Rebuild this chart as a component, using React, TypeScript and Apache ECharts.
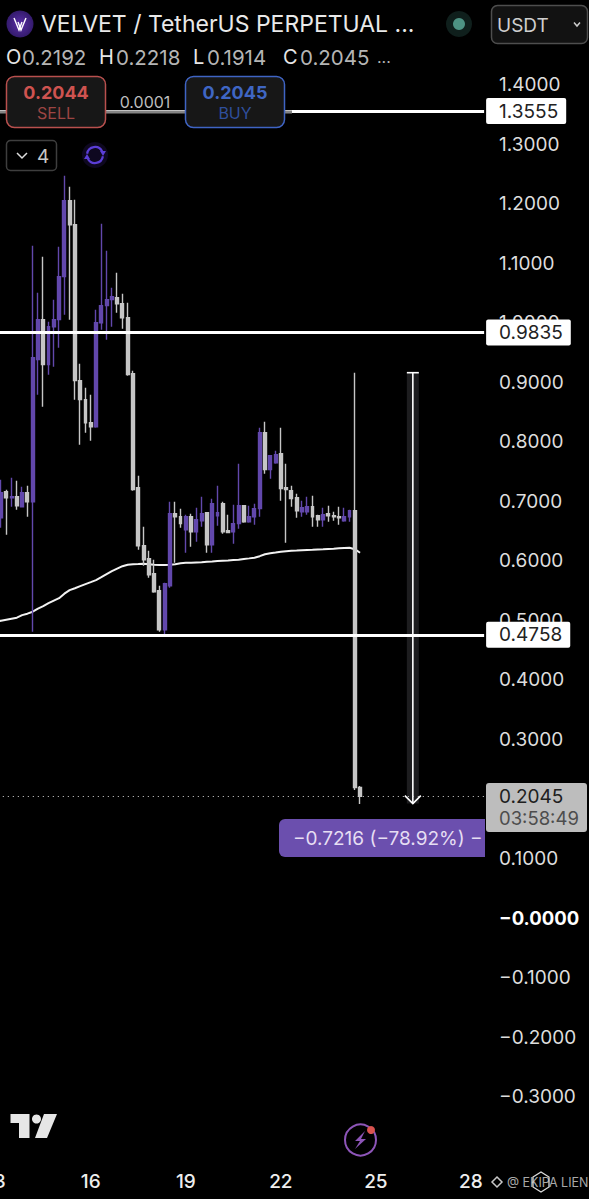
import React, { useEffect, useRef } from "react";
import * as echarts from "echarts";

const FONT = "Inter, 'Noto Sans', sans-serif";
const tickDays = ["13", "16", "19", "22", "25", "28"];
const leadBars = 2;
const barsTotal = 94;
const opens = [
  0.6725, 0.7162, 0.7061, 0.7078, 0.691, 0.7145, 0.6994, 0.938, 1.0052, 0.9296,
  0.9934, 1.0052, 1.0774, 1.2051, 1.1647, 0.9027, 0.8708, 0.8321, 0.8254, 1.0001,
  1.0287, 1.0388, 1.0421, 1.032, 1.0085, 0.9144, 0.7229, 0.6255, 0.6037, 0.5785,
  0.5499, 0.4844, 0.5583, 0.6793, 0.6742, 0.6524, 0.6742, 0.649, 0.6675, 0.6809,
  0.6272, 0.6759, 0.696, 0.6507, 0.649, 0.6625, 0.6927, 0.6658, 0.6742, 0.6877,
  0.8153, 0.7532, 0.7649, 0.7801, 0.7229, 0.7179, 0.7061, 0.6826, 0.6826, 0.691,
  0.6759, 0.6692, 0.6793, 0.6759, 0.6742, 0.6675, 0.6742, 0.6843, 0.2192,
];
const closes = [
  0.7145, 0.7061, 0.7078, 0.6927, 0.7145, 0.6994, 0.9413, 1.0052, 0.9296, 0.9934,
  1.0052, 1.0774, 1.2051, 1.1647, 0.9027, 0.8708, 0.8321, 0.8254, 1.0001, 1.0287,
  1.0388, 1.0438, 1.032, 1.0085, 0.9128, 0.7196, 0.6255, 0.602, 0.5768, 0.5482,
  0.4844, 0.5617, 0.6793, 0.6742, 0.6625, 0.6742, 0.649, 0.6692, 0.6793, 0.6272,
  0.696, 0.6809, 0.649, 0.6474, 0.6625, 0.6927, 0.6658, 0.6742, 0.6877, 0.8153,
  0.7532, 0.7767, 0.7784, 0.7213, 0.7196, 0.7045, 0.6843, 0.6893, 0.691, 0.6742,
  0.6692, 0.6776, 0.6759, 0.6742, 0.6725, 0.6742, 0.6843, 0.2192, 0.2045,
];
const lows = [
  0.6557, 0.644, 0.691, 0.686, 0.69, 0.6742, 0.481, 0.8792, 0.859, 0.9128,
  0.9262, 0.9581, 1.0136, 1.0052, 0.8708, 0.7952, 0.8153, 0.8019, 0.8237, 0.9883,
  0.9715, 0.9934, 1.0169, 0.99, 0.9111, 0.7179, 0.6188, 0.5919, 0.5718, 0.5466,
  0.481, 0.476, 0.555, 0.597, 0.6557, 0.6137, 0.6238, 0.6322, 0.6574, 0.6137,
  0.6137, 0.6591, 0.6457, 0.647, 0.6289, 0.654, 0.6641, 0.664, 0.6608, 0.6742,
  0.7465, 0.7381, 0.7633, 0.7011, 0.6305, 0.691, 0.6725, 0.6742, 0.6776, 0.6574,
  0.6574, 0.6574, 0.6658, 0.6675, 0.6608, 0.6658, 0.6658, 0.215, 0.1914,
];
const highs = [
  0.7364, 0.7196, 0.7397, 0.7347, 0.7246, 0.7263, 1.1295, 1.0505, 1.111, 1.0018,
  1.0388, 1.1278, 1.247, 1.2286, 1.2067, 0.9313, 0.8909, 0.8792, 1.022, 1.1664,
  1.1211, 1.0589, 1.0841, 1.0488, 1.0337, 0.9195, 0.7431, 0.6574, 0.6171, 0.602,
  0.5583, 0.5634, 0.6994, 0.6994, 0.6877, 0.6776, 0.6793, 0.6893, 0.7078, 0.6809,
  0.7045, 0.7263, 0.6994, 0.6776, 0.6944, 0.7633, 0.694, 0.6927, 0.696, 0.8237,
  0.8338, 0.778, 0.7851, 0.8237, 0.7633, 0.7263, 0.7129, 0.7011, 0.7078, 0.7095,
  0.6776, 0.6893, 0.6927, 0.6826, 0.691, 0.6893, 0.686, 0.9161, 0.2218,
];
const movingAverage = [
  0.4995, 0.5012, 0.5029, 0.5046, 0.5088, 0.5113, 0.5146, 0.5197, 0.5239, 0.5289,
  0.5331, 0.5373, 0.5449, 0.5508, 0.5541, 0.5575, 0.5609, 0.5642, 0.5676, 0.5726,
  0.5777, 0.5827, 0.5869, 0.5911, 0.5936, 0.5944, 0.5948, 0.5953, 0.5944, 0.5936,
  0.5931, 0.5931, 0.5936, 0.5944, 0.5961, 0.5969, 0.5969, 0.5973, 0.5977, 0.5986,
  0.5991, 0.5998, 0.6003, 0.6008, 0.6015, 0.602, 0.6032, 0.6042, 0.6053, 0.6079,
  0.6112, 0.6129, 0.6141, 0.6154, 0.6163, 0.6171, 0.6174, 0.6179, 0.6184, 0.6188,
  0.6193, 0.6196, 0.6201, 0.6205, 0.621, 0.6215, 0.622, 0.6196, 0.6137,
];
const priceLines = [1.3555, 0.9835, 0.4758];
const lastPrice = 0.2045;
const measureBar = 80;
const measureTop = 0.9161;
const measureBottom = 0.1923;

// 4h bars: six a day; bar 1 opens day 13.
const categories = Array.from({ length: barsTotal }, (_, i) => {
  const h = i + 5;
  const day = 12 + Math.floor(h / 6);
  return `${day}|${h % 6}`;
});
const blank = ["-", "-", "-", "-"];
const candleData = [
  ...Array.from({ length: leadBars }, () => blank),
  ...opens.map((o, i) => [o, closes[i], lows[i], highs[i]]),
];
const maData = [null, 0.4979, ...movingAverage];

const PURPLE = "#6248ac";
const GREY = "#c6c6c6";

const txt = (text: string, x: number, y: number, size: number, fill: string, extra: any = {}) => ({
  type: "text",
  z: 100,
  x,
  y,
  style: { text, fill, fontSize: size, fontFamily: FONT, textVerticalAlign: "middle", verticalAlign: "middle", ...extra },
});
const box = (x: number, y: number, w: number, h: number, r: any, fill: string, stroke?: string, lw = 1.5, z = 99) => ({
  type: "rect",
  z,
  shape: { x, y, width: w, height: h, r },
  style: { fill, stroke: stroke || undefined, lineWidth: lw },
});

const graphics: any[] = [
  // header
  { type: "circle", z: 99, shape: { cx: 20, cy: 24, r: 13.5 }, style: { fill: new echarts.graphic.RadialGradient(0.5, 0.5, 0.6, [{ offset: 0, color: "#5a2ea8" }, { offset: 1, color: "#2c1760" }]) } },
  { type: "polyline", z: 100, shape: { points: [[14, 18], [19, 30], [22, 22]] }, style: { stroke: "#fff", fill: "none", lineWidth: 1.4 } },
  { type: "polyline", z: 100, shape: { points: [[26, 18], [21, 30], [18, 22]] }, style: { stroke: "#fff", fill: "none", lineWidth: 1.4 } },
  txt("VELVET / TetherUS PERPETUAL ...", 41, 24, 23, "#e9e9e9"),
  { type: "circle", z: 99, shape: { cx: 459, cy: 24, r: 13 }, style: { fill: "#0f1f1c" } },
  { type: "circle", z: 100, shape: { cx: 459, cy: 24, r: 6 }, style: { fill: "#4d9283" } },
  box(491.5, 5.5, 96, 38, 6, "#121212", "#4e4e4e"),
  txt("USDT", 497, 25, 19, "#cfcfcf"),
  { type: "polyline", z: 100, shape: { points: [[574, 22.5], [577, 26], [580, 22.5]] }, style: { stroke: "#ccc", fill: "none", lineWidth: 1.5 } },
  txt("O", 6, 57, 20, "#e6e6e6"),
  txt("0.2192", 22, 57, 20.5, "#b5b5b5"),
  txt("H", 99, 57, 20, "#e6e6e6"),
  txt("0.2218", 116, 57, 20.5, "#b5b5b5"),
  txt("L", 193, 57, 20, "#e6e6e6"),
  txt("0.1914", 207, 57, 20.5, "#b5b5b5"),
  txt("C", 283, 57, 20, "#e6e6e6"),
  txt("0.2045", 300, 57, 20.5, "#b5b5b5"),
  txt("...", 377, 57, 16, "#b5b5b5"),
  // spread line and buy / sell
  { type: "rect", z: 90, shape: { x: 0, y: 110.5, width: 292, height: 3 }, style: { fill: "#858585" } },
  box(6.5, 76.5, 99, 51, 8, "#171717", "#b9504e"),
  txt("0.2044", 56, 92, 18, "#cf5350", { align: "center", fontWeight: 700 }),
  txt("SELL", 56, 113, 16, "#9c4543", { align: "center" }),
  box(185.5, 76.5, 99, 51, 8, "#171717", "#3f64c4"),
  txt("0.2045", 235, 92, 18, "#3f66c4", { align: "center", fontWeight: 700 }),
  txt("BUY", 235, 113, 16, "#2f4f9c", { align: "center" }),
  txt("0.0001", 145, 102, 16, "#bdbdbd", { align: "center" }),
  // indicator toggle
  box(6.5, 140.5, 50, 30, 4, "#000", "#3e3e3e"),
  { type: "polyline", z: 100, shape: { points: [[17, 153], [22, 158], [27, 153]] }, style: { stroke: "#ddd", fill: "none", lineWidth: 1.5 } },
  txt("4", 37, 156, 19, "#c8c8c8"),
  { type: "circle", z: 99, shape: { cx: 95, cy: 155, r: 13 }, style: { fill: "#0e0820" } },
  { type: "arc", z: 100, shape: { cx: 95, cy: 155, r: 8, startAngle: Math.PI * 1.05, endAngle: Math.PI * 1.85 }, style: { stroke: "#5b3ed6", fill: "none", lineWidth: 2.2 } },
  { type: "arc", z: 100, shape: { cx: 95, cy: 155, r: 8, startAngle: Math.PI * 0.05, endAngle: Math.PI * 0.85 }, style: { stroke: "#5b3ed6", fill: "none", lineWidth: 2.2 } },
  { type: "polygon", z: 100, shape: { points: [[100, 151], [106, 151], [103, 156]] }, style: { fill: "#5b3ed6" } },
  { type: "polygon", z: 100, shape: { points: [[84, 159], [90, 159], [87, 154]] }, style: { fill: "#5b3ed6" } },
  // last price tag
  box(486, 783, 101, 49, 3, "#bdbdbd", undefined, 0, 99),
  txt("0.2045", 499, 796, 19, "#202020"),
  txt("03:58:49", 499, 818, 18.5, "#4d4d4d"),
  // measure label
  box(279, 819, 206, 38, [6, 0, 0, 6], "#6b4fae", undefined, 0, 99),
  txt("\u22120.7216 (\u221278.92%) \u2212", 293, 838.5, 19, "#e6def3"),
  // TradingView mark
  { type: "polygon", z: 100, shape: { points: [[10.5, 1114], [29.5, 1114], [29.5, 1138], [19, 1138], [19, 1123], [10.5, 1123]] }, style: { fill: "#e6e6e6" } },
  { type: "circle", z: 100, shape: { cx: 36.5, cy: 1119, r: 4.5 }, style: { fill: "#e6e6e6" } },
  { type: "polygon", z: 100, shape: { points: [[44, 1114], [57, 1114], [47, 1138], [35, 1138]] }, style: { fill: "#e6e6e6" } },
  // lightning button
  { type: "circle", z: 100, shape: { cx: 360.5, cy: 1140, r: 15.5 }, style: { fill: "#000", stroke: "#8d55b8", lineWidth: 2 } },
  { type: "polygon", z: 100, shape: { points: [[365, 1131], [355, 1141], [360, 1141], [355, 1149], [366, 1139], [361, 1139]] }, style: { fill: "#8d55b8" } },
  { type: "circle", z: 101, shape: { cx: 371, cy: 1130, r: 4 }, style: { fill: "#d9534f" } },
  // watermark
  { type: "polygon", z: 100, shape: { points: [[497, 1177], [502, 1182], [497, 1187], [492, 1182]] }, style: { fill: "none", stroke: "#c8c8c8", lineWidth: 1.5 } },
  txt("@ EKIPA LIEN", 507, 1182, 12.5, "#a8a8a8"),
  { type: "polygon", z: 101, shape: { points: [[533, 1177], [541, 1172], [549, 1177], [549, 1187], [541, 1192], [533, 1187]] }, style: { fill: "none", stroke: "#dcdcdc", lineWidth: 1.3 } },
];

const measureItem = (_p: any, api: any) => {
  const [x, top] = api.coord([api.value(0), api.value(1)]);
  const [, bot] = api.coord([api.value(0), api.value(2)]);
  const st = { stroke: "#fff", lineWidth: 1.6, fill: "none" };
  return {
    type: "group",
    children: [
      { type: "rect", shape: { x: x - 6, y: top, width: 12, height: bot - top }, style: { fill: "#1d1d1f" } },
      { type: "line", shape: { x1: x, y1: top, x2: x, y2: bot }, style: st },
      { type: "line", shape: { x1: x - 6, y1: top, x2: x + 6, y2: top }, style: st },
      { type: "polyline", shape: { points: [[x - 8, bot - 8], [x, bot], [x + 8, bot - 8]] }, style: st },
    ],
  };
};

export default function App() {
  const ref = useRef<HTMLDivElement>(null);
  useEffect(() => {
    document.body.style.margin = "0";
    document.body.style.background = "#000";
    const chart = echarts.init(ref.current!, undefined, { renderer: "svg" });
    chart.setOption({
      animation: false,
      backgroundColor: "#000",
      textStyle: { fontFamily: FONT },
      grid: { left: -12.2, top: 25.1, width: 496.32, height: 1131.07, containLabel: false, outerBoundsMode: "none" },
      xAxis: {
        type: "category",
        data: categories,
        boundaryGap: true,
        axisLine: { show: false },
        axisTick: { show: false },
        splitLine: { show: false },
        axisLabel: {
          interval: (_i: number, v: string) => {
            const [d, h] = v.split("|");
            return h === "0" && tickDays.includes(d);
          },
          formatter: (v: string) => v.split("|")[0],
          color: "#eeeeee",
          fontSize: 19,
          fontWeight: 500,
          fontFamily: FONT,
          margin: 16,
        },
      },
      yAxis: {
        type: "value",
        position: "right",
        min: -0.4,
        max: 1.5,
        interval: 0.1,
        scale: true,
        axisLine: { show: false },
        axisTick: { show: false },
        splitLine: { show: false },
        axisLabel: {
          showMinLabel: false,
          showMaxLabel: false,
          align: "left",
          margin: 15,
          color: "#dddddd",
          fontSize: 19,
          fontFamily: FONT,
          formatter: (v: number) =>
            Math.abs(v) < 1e-9 ? "{b|\u22120.0000}" : v < 0 ? "\u2212" + Math.abs(v).toFixed(4) : v.toFixed(4),
          rich: { b: { fontWeight: 700, color: "#ffffff", fontSize: 18.5, fontFamily: FONT } },
        },
      },
      series: [
        {
          type: "custom",
          z: 1,
          silent: true,
          renderItem: measureItem,
          data: [[measureBar, measureTop, measureBottom]],
          encode: { x: 0, y: [1, 2] },
          clip: false,
        },
        {
          type: "line",
          z: 2,
          data: maData,
          showSymbol: false,
          lineStyle: { color: "#f2f2f2", width: 2 },
          silent: true,
        },
        {
          type: "candlestick",
          z: 3,
          data: candleData,
          barWidth: 3.4,
          silent: true,
          itemStyle: { color: PURPLE, color0: GREY, borderColor: PURPLE, borderColor0: GREY, borderWidth: 1.4 },
        },
        {
          type: "line",
          z: 5,
          data: [],
          silent: true,
          markLine: {
            silent: true,
            symbol: "none",
            animation: false,
            precision: 4,
            lineStyle: { color: "#ffffff", width: 3, type: "solid" },
            label: {
              position: "end",
              distance: 2,
              formatter: (p: any) => Number(p.value).toFixed(4),
              backgroundColor: "#ffffff",
              color: "#222222",
              fontSize: 19,
              lineHeight: 18,
              fontFamily: FONT,
              padding: [4, 8, 4, 13],
              borderRadius: 2,
            },
            data: priceLines.map((v) => ({ yAxis: v })),
          },
        },
        {
          type: "line",
          z: 4,
          data: [],
          silent: true,
          markLine: {
            silent: true,
            symbol: "none",
            animation: false,
            precision: 4,
            lineStyle: { color: "#d8d8d8", width: 1, type: [1, 4] },
            label: { show: false },
            data: [{ yAxis: lastPrice }],
          },
        },
      ],
      graphic: { elements: graphics },
    });
    return () => chart.dispose();
  }, []);
  return <div ref={ref} style={{ position: "fixed", left: 0, top: 0, width: 589, height: 1199, overflow: "hidden", background: "#000" }} />;
}
